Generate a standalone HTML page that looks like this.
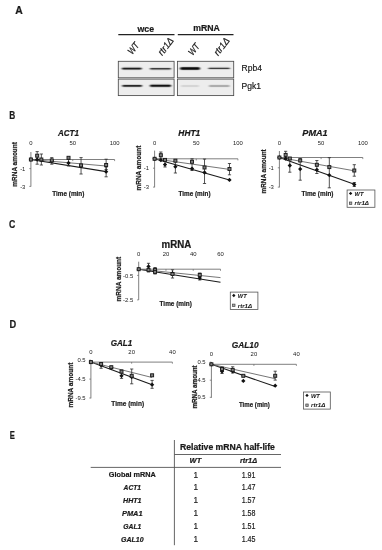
<!DOCTYPE html>
<html><head><meta charset="utf-8"><title>Figure</title>
<style>
html,body{margin:0;padding:0;background:#fff;}
body{width:382px;height:550px;overflow:hidden;}
svg{display:block;filter:blur(0.35px);font-family:'Liberation Sans', sans-serif;}
</style></head>
<body>
<svg width="382" height="550" viewBox="0 0 382 550">
<defs>
<filter id="bl" x="-20%" y="-200%" width="140%" height="500%"><feGaussianBlur stdDeviation="0.9 0.55"/></filter>
</defs>
<rect width="382" height="550" fill="#ffffff"/>
<text x="15.20" y="14.10" font-size="10.9" text-anchor="start" fill="#1a1a1a" font-weight="bold" stroke="#1a1a1a" stroke-width="0.22" textLength="7.50" lengthAdjust="spacingAndGlyphs" >A</text>
<text x="9.20" y="118.80" font-size="10.9" text-anchor="start" fill="#1a1a1a" font-weight="bold" stroke="#1a1a1a" stroke-width="0.22" textLength="6.00" lengthAdjust="spacingAndGlyphs" >B</text>
<text x="9.00" y="227.90" font-size="10.9" text-anchor="start" fill="#1a1a1a" font-weight="bold" stroke="#1a1a1a" stroke-width="0.22" textLength="6.30" lengthAdjust="spacingAndGlyphs" >C</text>
<text x="9.40" y="328.30" font-size="10.9" text-anchor="start" fill="#1a1a1a" font-weight="bold" stroke="#1a1a1a" stroke-width="0.22" textLength="6.70" lengthAdjust="spacingAndGlyphs" >D</text>
<text x="9.80" y="439.20" font-size="10.9" text-anchor="start" fill="#1a1a1a" font-weight="bold" stroke="#1a1a1a" stroke-width="0.22" textLength="5.10" lengthAdjust="spacingAndGlyphs" >E</text>
<text x="145.80" y="31.84" font-size="9.6" text-anchor="middle" fill="#1a1a1a" font-weight="bold" stroke="#1a1a1a" stroke-width="0.22" textLength="16.60" lengthAdjust="spacingAndGlyphs" >wce</text>
<text x="206.60" y="30.97" font-size="9.4" text-anchor="middle" fill="#1a1a1a" font-weight="bold" stroke="#1a1a1a" stroke-width="0.22" textLength="26.60" lengthAdjust="spacingAndGlyphs" >mRNA</text>
<line x1="118.30" y1="34.60" x2="174.50" y2="34.60" stroke="#222" stroke-width="1.1" />
<line x1="177.80" y1="34.60" x2="233.50" y2="34.60" stroke="#222" stroke-width="1.1" />
<text x="133.30" y="51.64" font-size="9.6" text-anchor="middle" fill="#1a1a1a" font-style="italic" textLength="12.00" lengthAdjust="spacingAndGlyphs" transform="rotate(-52 133.30 48.20)" stroke="#1a1a1a" stroke-width="0.2">WT</text>
<text x="165.60" y="49.64" font-size="9.6" text-anchor="middle" fill="#1a1a1a" font-style="italic" textLength="19.50" lengthAdjust="spacingAndGlyphs" transform="rotate(-52 165.60 46.20)" stroke="#1a1a1a" stroke-width="0.2">rtr1Δ</text>
<text x="193.80" y="52.64" font-size="9.6" text-anchor="middle" fill="#1a1a1a" font-style="italic" textLength="12.00" lengthAdjust="spacingAndGlyphs" transform="rotate(-52 193.80 49.20)" stroke="#1a1a1a" stroke-width="0.2">WT</text>
<text x="221.50" y="49.84" font-size="9.6" text-anchor="middle" fill="#1a1a1a" font-style="italic" textLength="19.50" lengthAdjust="spacingAndGlyphs" transform="rotate(-52 221.50 46.40)" stroke="#1a1a1a" stroke-width="0.2">rtr1Δ</text>
<rect x="118.3" y="61.3" width="55.80" height="16.50" fill="#ededed" stroke="#4a4a4a" stroke-width="0.85"/>
<rect x="118.3" y="79.1" width="55.80" height="16.50" fill="#ededed" stroke="#4a4a4a" stroke-width="0.85"/>
<rect x="177.4" y="61.3" width="56.30" height="16.50" fill="#ededed" stroke="#4a4a4a" stroke-width="0.85"/>
<rect x="177.4" y="79.1" width="56.30" height="16.50" fill="#ededed" stroke="#4a4a4a" stroke-width="0.85"/>
<rect x="121.50" y="66.85" width="20.60" height="3.50" rx="1.75" fill="#000" opacity="0.136" filter="url(#bl)"/>
<rect x="122.00" y="67.75" width="19.60" height="1.7" rx="0.85" fill="#000" opacity="0.85" filter="url(#bl)"/>
<rect x="149.50" y="67.15" width="21.90" height="3.30" rx="1.65" fill="#000" opacity="0.112" filter="url(#bl)"/>
<rect x="150.00" y="68.05" width="20.90" height="1.5" rx="0.75" fill="#000" opacity="0.7" filter="url(#bl)"/>
<rect x="121.80" y="84.05" width="20.70" height="3.50" rx="1.75" fill="#000" opacity="0.128" filter="url(#bl)"/>
<rect x="122.30" y="84.95" width="19.70" height="1.7" rx="0.85" fill="#000" opacity="0.8" filter="url(#bl)"/>
<rect x="149.50" y="83.85" width="22.00" height="3.90" rx="1.95" fill="#000" opacity="0.144" filter="url(#bl)"/>
<rect x="150.00" y="84.75" width="21.00" height="2.1" rx="1.05" fill="#000" opacity="0.9" filter="url(#bl)"/>
<rect x="179.80" y="66.40" width="20.50" height="4.20" rx="2.10" fill="#000" opacity="0.152" filter="url(#bl)"/>
<rect x="180.30" y="67.30" width="19.50" height="2.4" rx="1.2" fill="#000" opacity="0.95" filter="url(#bl)"/>
<rect x="208.00" y="66.80" width="22.20" height="3.20" rx="1.60" fill="#000" opacity="0.112" filter="url(#bl)"/>
<rect x="208.50" y="67.70" width="21.20" height="1.4" rx="0.7" fill="#000" opacity="0.7" filter="url(#bl)"/>
<rect x="180.50" y="84.40" width="19.00" height="3.20" rx="1.60" fill="#000" opacity="0.016" filter="url(#bl)"/>
<rect x="181.00" y="85.30" width="18.00" height="1.4" rx="0.7" fill="#000" opacity="0.1" filter="url(#bl)"/>
<rect x="208.50" y="84.25" width="21.50" height="3.30" rx="1.65" fill="#000" opacity="0.048" filter="url(#bl)"/>
<rect x="209.00" y="85.15" width="20.50" height="1.5" rx="0.75" fill="#000" opacity="0.3" filter="url(#bl)"/>
<text x="241.60" y="70.77" font-size="9.4" text-anchor="start" fill="#1a1a1a" textLength="20.40" lengthAdjust="spacingAndGlyphs" stroke="#1a1a1a" stroke-width="0.2">Rpb4</text>
<text x="241.60" y="88.97" font-size="9.4" text-anchor="start" fill="#1a1a1a" textLength="19.50" lengthAdjust="spacingAndGlyphs" stroke="#1a1a1a" stroke-width="0.2">Pgk1</text>
<line x1="30.90" y1="152.00" x2="30.90" y2="186.60" stroke="#606060" stroke-width="0.8" />
<line x1="30.90" y1="159.50" x2="114.60" y2="159.50" stroke="#606060" stroke-width="0.8" />
<text x="30.90" y="144.71" font-size="5.9" text-anchor="middle" fill="#1a1a1a" >0</text>
<line x1="72.75" y1="159.50" x2="72.75" y2="161.10" stroke="#606060" stroke-width="0.7" />
<text x="72.75" y="144.71" font-size="5.9" text-anchor="middle" fill="#1a1a1a" >50</text>
<line x1="114.60" y1="159.50" x2="114.60" y2="161.10" stroke="#606060" stroke-width="0.7" />
<text x="114.60" y="144.71" font-size="5.9" text-anchor="middle" fill="#1a1a1a" >100</text>
<line x1="29.30" y1="168.60" x2="30.90" y2="168.60" stroke="#606060" stroke-width="0.7" />
<text x="25.40" y="170.71" font-size="5.9" text-anchor="end" fill="#1a1a1a" >-1</text>
<line x1="29.30" y1="186.40" x2="30.90" y2="186.40" stroke="#606060" stroke-width="0.7" />
<text x="25.40" y="188.51" font-size="5.9" text-anchor="end" fill="#1a1a1a" >-3</text>
<text x="68.50" y="136.20" font-size="9.5" text-anchor="middle" fill="#1a1a1a" font-weight="bold" stroke="#1a1a1a" stroke-width="0.22" font-style="italic" textLength="21.00" lengthAdjust="spacingAndGlyphs" >ACT1</text>
<text x="14.90" y="166.94" font-size="7.1" text-anchor="middle" fill="#1a1a1a" font-weight="bold" stroke="#1a1a1a" stroke-width="0.22" textLength="44.60" lengthAdjust="spacingAndGlyphs" transform="rotate(-90 14.90 164.40)" >mRNA amount</text>
<text x="68.30" y="195.89" font-size="7.8" text-anchor="middle" fill="#1a1a1a" font-weight="bold" stroke="#1a1a1a" stroke-width="0.22" textLength="32.20" lengthAdjust="spacingAndGlyphs" >Time (min)</text>
<line x1="30.90" y1="159.50" x2="106.14" y2="171.60" stroke="#1a1a1a" stroke-width="1.1" />
<line x1="30.90" y1="159.50" x2="106.14" y2="166.00" stroke="#666" stroke-width="0.9" />
<line x1="37.17" y1="151.60" x2="37.17" y2="164.20" stroke="#2a2a2a" stroke-width="0.8" />
<line x1="35.57" y1="151.60" x2="38.77" y2="151.60" stroke="#2a2a2a" stroke-width="0.8" />
<line x1="35.57" y1="164.20" x2="38.77" y2="164.20" stroke="#2a2a2a" stroke-width="0.8" />
<line x1="41.35" y1="154.00" x2="41.35" y2="165.00" stroke="#2a2a2a" stroke-width="0.8" />
<line x1="39.75" y1="154.00" x2="42.95" y2="154.00" stroke="#2a2a2a" stroke-width="0.8" />
<line x1="39.75" y1="165.00" x2="42.95" y2="165.00" stroke="#2a2a2a" stroke-width="0.8" />
<line x1="51.80" y1="157.60" x2="51.80" y2="164.20" stroke="#2a2a2a" stroke-width="0.8" />
<line x1="50.20" y1="157.60" x2="53.40" y2="157.60" stroke="#2a2a2a" stroke-width="0.8" />
<line x1="50.20" y1="164.20" x2="53.40" y2="164.20" stroke="#2a2a2a" stroke-width="0.8" />
<line x1="68.52" y1="159.50" x2="68.52" y2="166.00" stroke="#2a2a2a" stroke-width="0.8" />
<line x1="66.92" y1="159.50" x2="70.12" y2="159.50" stroke="#2a2a2a" stroke-width="0.8" />
<line x1="66.92" y1="166.00" x2="70.12" y2="166.00" stroke="#2a2a2a" stroke-width="0.8" />
<line x1="81.06" y1="157.60" x2="81.06" y2="174.00" stroke="#2a2a2a" stroke-width="0.8" />
<line x1="79.46" y1="157.60" x2="82.66" y2="157.60" stroke="#2a2a2a" stroke-width="0.8" />
<line x1="79.46" y1="174.00" x2="82.66" y2="174.00" stroke="#2a2a2a" stroke-width="0.8" />
<line x1="106.14" y1="159.20" x2="106.14" y2="169.50" stroke="#2a2a2a" stroke-width="0.8" />
<line x1="104.54" y1="159.20" x2="107.74" y2="159.20" stroke="#2a2a2a" stroke-width="0.8" />
<line x1="104.54" y1="169.50" x2="107.74" y2="169.50" stroke="#2a2a2a" stroke-width="0.8" />
<line x1="106.14" y1="167.00" x2="106.14" y2="176.80" stroke="#2a2a2a" stroke-width="0.8" />
<line x1="104.54" y1="167.00" x2="107.74" y2="167.00" stroke="#2a2a2a" stroke-width="0.8" />
<line x1="104.54" y1="176.80" x2="107.74" y2="176.80" stroke="#2a2a2a" stroke-width="0.8" />
<path d="M30.90 157.35 L33.05 159.50 L30.90 161.65 L28.75 159.50 Z" fill="#111"/>
<path d="M37.17 157.35 L39.32 159.50 L37.17 161.65 L35.02 159.50 Z" fill="#111"/>
<path d="M41.35 157.85 L43.50 160.00 L41.35 162.15 L39.20 160.00 Z" fill="#111"/>
<path d="M51.80 158.85 L53.95 161.00 L51.80 163.15 L49.65 161.00 Z" fill="#111"/>
<path d="M68.52 160.85 L70.67 163.00 L68.52 165.15 L66.37 163.00 Z" fill="#111"/>
<path d="M81.06 164.05 L83.21 166.20 L81.06 168.35 L78.91 166.20 Z" fill="#111"/>
<path d="M106.14 169.55 L108.29 171.70 L106.14 173.85 L103.99 171.70 Z" fill="#111"/>
<rect x="29.40" y="158.00" width="3.00" height="3.00" fill="#808080" stroke="#1a1a1a" stroke-width="0.95"/>
<rect x="35.67" y="154.20" width="3.00" height="3.00" fill="#808080" stroke="#1a1a1a" stroke-width="0.95"/>
<rect x="39.85" y="158.00" width="3.00" height="3.00" fill="#808080" stroke="#1a1a1a" stroke-width="0.95"/>
<rect x="50.30" y="158.90" width="3.00" height="3.00" fill="#808080" stroke="#1a1a1a" stroke-width="0.95"/>
<rect x="67.02" y="156.30" width="3.00" height="3.00" fill="#808080" stroke="#1a1a1a" stroke-width="0.95"/>
<rect x="79.56" y="163.90" width="3.00" height="3.00" fill="#808080" stroke="#1a1a1a" stroke-width="0.95"/>
<rect x="104.64" y="163.50" width="3.00" height="3.00" fill="#808080" stroke="#1a1a1a" stroke-width="0.95"/>
<line x1="154.60" y1="150.60" x2="154.60" y2="187.30" stroke="#606060" stroke-width="0.8" />
<line x1="154.60" y1="158.80" x2="237.90" y2="158.80" stroke="#606060" stroke-width="0.8" />
<text x="154.60" y="144.71" font-size="5.9" text-anchor="middle" fill="#1a1a1a" >0</text>
<line x1="196.25" y1="158.80" x2="196.25" y2="160.40" stroke="#606060" stroke-width="0.7" />
<text x="196.25" y="144.71" font-size="5.9" text-anchor="middle" fill="#1a1a1a" >50</text>
<line x1="237.90" y1="158.80" x2="237.90" y2="160.40" stroke="#606060" stroke-width="0.7" />
<text x="237.90" y="144.71" font-size="5.9" text-anchor="middle" fill="#1a1a1a" >100</text>
<line x1="153.00" y1="168.20" x2="154.60" y2="168.20" stroke="#606060" stroke-width="0.7" />
<text x="149.10" y="170.31" font-size="5.9" text-anchor="end" fill="#1a1a1a" >-1</text>
<line x1="153.00" y1="187.10" x2="154.60" y2="187.10" stroke="#606060" stroke-width="0.7" />
<text x="149.10" y="189.21" font-size="5.9" text-anchor="end" fill="#1a1a1a" >-3</text>
<text x="189.30" y="136.10" font-size="9.5" text-anchor="middle" fill="#1a1a1a" font-weight="bold" stroke="#1a1a1a" stroke-width="0.22" font-style="italic" textLength="22.00" lengthAdjust="spacingAndGlyphs" >HHT1</text>
<text x="138.10" y="170.64" font-size="7.1" text-anchor="middle" fill="#1a1a1a" font-weight="bold" stroke="#1a1a1a" stroke-width="0.22" textLength="44.80" lengthAdjust="spacingAndGlyphs" transform="rotate(-90 138.10 168.10)" >mRNA amount</text>
<text x="194.50" y="196.19" font-size="7.8" text-anchor="middle" fill="#1a1a1a" font-weight="bold" stroke="#1a1a1a" stroke-width="0.22" textLength="32.00" lengthAdjust="spacingAndGlyphs" >Time (min)</text>
<line x1="154.60" y1="158.80" x2="229.48" y2="180.00" stroke="#1a1a1a" stroke-width="1.1" />
<line x1="154.60" y1="158.80" x2="229.48" y2="169.40" stroke="#666" stroke-width="0.9" />
<line x1="160.84" y1="152.00" x2="160.84" y2="158.20" stroke="#2a2a2a" stroke-width="0.8" />
<line x1="159.24" y1="152.00" x2="162.44" y2="152.00" stroke="#2a2a2a" stroke-width="0.8" />
<line x1="159.24" y1="158.20" x2="162.44" y2="158.20" stroke="#2a2a2a" stroke-width="0.8" />
<line x1="165.00" y1="160.00" x2="165.00" y2="167.00" stroke="#2a2a2a" stroke-width="0.8" />
<line x1="163.40" y1="160.00" x2="166.60" y2="160.00" stroke="#2a2a2a" stroke-width="0.8" />
<line x1="163.40" y1="167.00" x2="166.60" y2="167.00" stroke="#2a2a2a" stroke-width="0.8" />
<line x1="175.40" y1="161.00" x2="175.40" y2="173.00" stroke="#2a2a2a" stroke-width="0.8" />
<line x1="173.80" y1="161.00" x2="177.00" y2="161.00" stroke="#2a2a2a" stroke-width="0.8" />
<line x1="173.80" y1="173.00" x2="177.00" y2="173.00" stroke="#2a2a2a" stroke-width="0.8" />
<line x1="192.04" y1="158.80" x2="192.04" y2="170.50" stroke="#2a2a2a" stroke-width="0.8" />
<line x1="190.44" y1="158.80" x2="193.64" y2="158.80" stroke="#2a2a2a" stroke-width="0.8" />
<line x1="190.44" y1="170.50" x2="193.64" y2="170.50" stroke="#2a2a2a" stroke-width="0.8" />
<line x1="204.52" y1="159.10" x2="204.52" y2="183.50" stroke="#2a2a2a" stroke-width="0.8" />
<line x1="202.92" y1="159.10" x2="206.12" y2="159.10" stroke="#2a2a2a" stroke-width="0.8" />
<line x1="202.92" y1="183.50" x2="206.12" y2="183.50" stroke="#2a2a2a" stroke-width="0.8" />
<line x1="229.48" y1="163.50" x2="229.48" y2="174.80" stroke="#2a2a2a" stroke-width="0.8" />
<line x1="227.88" y1="163.50" x2="231.08" y2="163.50" stroke="#2a2a2a" stroke-width="0.8" />
<line x1="227.88" y1="174.80" x2="231.08" y2="174.80" stroke="#2a2a2a" stroke-width="0.8" />
<path d="M154.60 156.65 L156.75 158.80 L154.60 160.95 L152.45 158.80 Z" fill="#111"/>
<path d="M160.84 158.05 L162.99 160.20 L160.84 162.35 L158.69 160.20 Z" fill="#111"/>
<path d="M165.00 162.45 L167.15 164.60 L165.00 166.75 L162.85 164.60 Z" fill="#111"/>
<path d="M175.40 164.55 L177.55 166.70 L175.40 168.85 L173.25 166.70 Z" fill="#111"/>
<path d="M192.04 166.45 L194.19 168.60 L192.04 170.75 L189.89 168.60 Z" fill="#111"/>
<path d="M204.52 170.35 L206.67 172.50 L204.52 174.65 L202.37 172.50 Z" fill="#111"/>
<path d="M229.48 177.75 L231.63 179.90 L229.48 182.05 L227.33 179.90 Z" fill="#111"/>
<rect x="153.10" y="157.30" width="3.00" height="3.00" fill="#808080" stroke="#1a1a1a" stroke-width="0.95"/>
<rect x="159.34" y="153.70" width="3.00" height="3.00" fill="#808080" stroke="#1a1a1a" stroke-width="0.95"/>
<rect x="163.50" y="158.40" width="3.00" height="3.00" fill="#808080" stroke="#1a1a1a" stroke-width="0.95"/>
<rect x="173.90" y="159.20" width="3.00" height="3.00" fill="#808080" stroke="#1a1a1a" stroke-width="0.95"/>
<rect x="190.54" y="160.30" width="3.00" height="3.00" fill="#808080" stroke="#1a1a1a" stroke-width="0.95"/>
<rect x="203.02" y="166.00" width="3.00" height="3.00" fill="#808080" stroke="#1a1a1a" stroke-width="0.95"/>
<rect x="227.98" y="167.50" width="3.00" height="3.00" fill="#808080" stroke="#1a1a1a" stroke-width="0.95"/>
<line x1="279.40" y1="151.00" x2="279.40" y2="187.40" stroke="#606060" stroke-width="0.8" />
<line x1="279.40" y1="157.50" x2="362.80" y2="157.50" stroke="#606060" stroke-width="0.8" />
<text x="279.40" y="144.61" font-size="5.9" text-anchor="middle" fill="#1a1a1a" >0</text>
<line x1="321.10" y1="157.50" x2="321.10" y2="159.10" stroke="#606060" stroke-width="0.7" />
<text x="321.10" y="144.61" font-size="5.9" text-anchor="middle" fill="#1a1a1a" >50</text>
<line x1="362.80" y1="157.50" x2="362.80" y2="159.10" stroke="#606060" stroke-width="0.7" />
<text x="362.80" y="144.61" font-size="5.9" text-anchor="middle" fill="#1a1a1a" >100</text>
<line x1="277.80" y1="167.80" x2="279.40" y2="167.80" stroke="#606060" stroke-width="0.7" />
<text x="273.90" y="169.91" font-size="5.9" text-anchor="end" fill="#1a1a1a" >-1</text>
<line x1="277.80" y1="187.10" x2="279.40" y2="187.10" stroke="#606060" stroke-width="0.7" />
<text x="273.90" y="189.21" font-size="5.9" text-anchor="end" fill="#1a1a1a" >-3</text>
<text x="315.00" y="136.10" font-size="9.5" text-anchor="middle" fill="#1a1a1a" font-weight="bold" stroke="#1a1a1a" stroke-width="0.22" font-style="italic" textLength="25.40" lengthAdjust="spacingAndGlyphs" >PMA1</text>
<text x="263.60" y="173.94" font-size="7.1" text-anchor="middle" fill="#1a1a1a" font-weight="bold" stroke="#1a1a1a" stroke-width="0.22" textLength="44.20" lengthAdjust="spacingAndGlyphs" transform="rotate(-90 263.60 171.40)" >mRNA amount</text>
<text x="317.40" y="195.99" font-size="7.8" text-anchor="middle" fill="#1a1a1a" font-weight="bold" stroke="#1a1a1a" stroke-width="0.22" textLength="32.00" lengthAdjust="spacingAndGlyphs" >Time (min)</text>
<line x1="279.40" y1="157.50" x2="354.28" y2="184.20" stroke="#1a1a1a" stroke-width="1.1" />
<line x1="279.40" y1="157.50" x2="354.28" y2="170.80" stroke="#666" stroke-width="0.9" />
<line x1="285.64" y1="151.30" x2="285.64" y2="159.60" stroke="#2a2a2a" stroke-width="0.8" />
<line x1="284.04" y1="151.30" x2="287.24" y2="151.30" stroke="#2a2a2a" stroke-width="0.8" />
<line x1="284.04" y1="159.60" x2="287.24" y2="159.60" stroke="#2a2a2a" stroke-width="0.8" />
<line x1="289.80" y1="159.50" x2="289.80" y2="172.20" stroke="#2a2a2a" stroke-width="0.8" />
<line x1="288.20" y1="159.50" x2="291.40" y2="159.50" stroke="#2a2a2a" stroke-width="0.8" />
<line x1="288.20" y1="172.20" x2="291.40" y2="172.20" stroke="#2a2a2a" stroke-width="0.8" />
<line x1="300.20" y1="158.50" x2="300.20" y2="180.20" stroke="#2a2a2a" stroke-width="0.8" />
<line x1="298.60" y1="158.50" x2="301.80" y2="158.50" stroke="#2a2a2a" stroke-width="0.8" />
<line x1="298.60" y1="180.20" x2="301.80" y2="180.20" stroke="#2a2a2a" stroke-width="0.8" />
<line x1="316.84" y1="160.50" x2="316.84" y2="173.50" stroke="#2a2a2a" stroke-width="0.8" />
<line x1="315.24" y1="160.50" x2="318.44" y2="160.50" stroke="#2a2a2a" stroke-width="0.8" />
<line x1="315.24" y1="173.50" x2="318.44" y2="173.50" stroke="#2a2a2a" stroke-width="0.8" />
<line x1="329.32" y1="157.70" x2="329.32" y2="187.80" stroke="#2a2a2a" stroke-width="0.8" />
<line x1="327.72" y1="157.70" x2="330.92" y2="157.70" stroke="#2a2a2a" stroke-width="0.8" />
<line x1="327.72" y1="187.80" x2="330.92" y2="187.80" stroke="#2a2a2a" stroke-width="0.8" />
<line x1="354.28" y1="164.70" x2="354.28" y2="176.20" stroke="#2a2a2a" stroke-width="0.8" />
<line x1="352.68" y1="164.70" x2="355.88" y2="164.70" stroke="#2a2a2a" stroke-width="0.8" />
<line x1="352.68" y1="176.20" x2="355.88" y2="176.20" stroke="#2a2a2a" stroke-width="0.8" />
<line x1="354.28" y1="182.50" x2="354.28" y2="186.50" stroke="#2a2a2a" stroke-width="0.8" />
<line x1="352.68" y1="182.50" x2="355.88" y2="182.50" stroke="#2a2a2a" stroke-width="0.8" />
<line x1="352.68" y1="186.50" x2="355.88" y2="186.50" stroke="#2a2a2a" stroke-width="0.8" />
<path d="M279.40 155.35 L281.55 157.50 L279.40 159.65 L277.25 157.50 Z" fill="#111"/>
<path d="M285.64 156.35 L287.79 158.50 L285.64 160.65 L283.49 158.50 Z" fill="#111"/>
<path d="M289.80 163.35 L291.95 165.50 L289.80 167.65 L287.65 165.50 Z" fill="#111"/>
<path d="M300.20 166.95 L302.35 169.10 L300.20 171.25 L298.05 169.10 Z" fill="#111"/>
<path d="M316.84 167.65 L318.99 169.80 L316.84 171.95 L314.69 169.80 Z" fill="#111"/>
<path d="M329.32 173.05 L331.47 175.20 L329.32 177.35 L327.17 175.20 Z" fill="#111"/>
<path d="M354.28 182.35 L356.43 184.50 L354.28 186.65 L352.13 184.50 Z" fill="#111"/>
<rect x="277.90" y="156.00" width="3.00" height="3.00" fill="#808080" stroke="#1a1a1a" stroke-width="0.95"/>
<rect x="284.14" y="153.40" width="3.00" height="3.00" fill="#808080" stroke="#1a1a1a" stroke-width="0.95"/>
<rect x="288.30" y="157.00" width="3.00" height="3.00" fill="#808080" stroke="#1a1a1a" stroke-width="0.95"/>
<rect x="298.70" y="159.00" width="3.00" height="3.00" fill="#808080" stroke="#1a1a1a" stroke-width="0.95"/>
<rect x="315.34" y="163.30" width="3.00" height="3.00" fill="#808080" stroke="#1a1a1a" stroke-width="0.95"/>
<rect x="327.82" y="165.60" width="3.00" height="3.00" fill="#808080" stroke="#1a1a1a" stroke-width="0.95"/>
<rect x="352.78" y="169.00" width="3.00" height="3.00" fill="#808080" stroke="#1a1a1a" stroke-width="0.95"/>
<rect x="347.1" y="190.0" width="27.80" height="17.30" fill="#fff" stroke="#555" stroke-width="0.8"/>
<path d="M350.60 191.70 L352.30 193.40 L350.60 195.10 L348.90 193.40 Z" fill="#111"/>
<rect x="349.40" y="202.00" width="2.4" height="2.4" fill="#aaa" stroke="#444" stroke-width="0.7"/>
<text x="354.60" y="195.65" font-size="6.0" text-anchor="start" fill="#1a1a1a" font-weight="bold" stroke="#1a1a1a" stroke-width="0.05" font-style="italic" textLength="8.80" lengthAdjust="spacingAndGlyphs" >WT</text>
<text x="354.60" y="205.45" font-size="6.0" text-anchor="start" fill="#1a1a1a" font-weight="bold" stroke="#1a1a1a" stroke-width="0.05" font-style="italic" textLength="14.30" lengthAdjust="spacingAndGlyphs" >rtr1Δ</text>
<line x1="138.70" y1="261.70" x2="138.70" y2="299.90" stroke="#606060" stroke-width="0.8" />
<line x1="138.70" y1="269.20" x2="220.50" y2="269.20" stroke="#606060" stroke-width="0.8" />
<text x="138.70" y="255.91" font-size="5.9" text-anchor="middle" fill="#1a1a1a" >0</text>
<line x1="165.97" y1="269.20" x2="165.97" y2="270.80" stroke="#606060" stroke-width="0.7" />
<text x="165.97" y="255.91" font-size="5.9" text-anchor="middle" fill="#1a1a1a" >20</text>
<line x1="193.23" y1="269.20" x2="193.23" y2="270.80" stroke="#606060" stroke-width="0.7" />
<text x="193.23" y="255.91" font-size="5.9" text-anchor="middle" fill="#1a1a1a" >40</text>
<line x1="220.50" y1="269.20" x2="220.50" y2="270.80" stroke="#606060" stroke-width="0.7" />
<text x="220.50" y="255.91" font-size="5.9" text-anchor="middle" fill="#1a1a1a" >60</text>
<line x1="137.10" y1="275.40" x2="138.70" y2="275.40" stroke="#606060" stroke-width="0.7" />
<text x="133.20" y="277.51" font-size="5.9" text-anchor="end" fill="#1a1a1a" >-0.5</text>
<line x1="137.10" y1="299.90" x2="138.70" y2="299.90" stroke="#606060" stroke-width="0.7" />
<text x="133.20" y="302.01" font-size="5.9" text-anchor="end" fill="#1a1a1a" >-2.5</text>
<text x="176.40" y="247.78" font-size="10.0" text-anchor="middle" fill="#1a1a1a" font-weight="bold" stroke="#1a1a1a" stroke-width="0.22" textLength="29.70" lengthAdjust="spacingAndGlyphs" >mRNA</text>
<text x="118.60" y="281.64" font-size="7.1" text-anchor="middle" fill="#1a1a1a" font-weight="bold" stroke="#1a1a1a" stroke-width="0.22" textLength="44.60" lengthAdjust="spacingAndGlyphs" transform="rotate(-90 118.60 279.10)" >mRNA amount</text>
<text x="175.70" y="305.59" font-size="7.8" text-anchor="middle" fill="#1a1a1a" font-weight="bold" stroke="#1a1a1a" stroke-width="0.22" textLength="32.30" lengthAdjust="spacingAndGlyphs" >Time (min)</text>
<line x1="138.70" y1="269.20" x2="220.50" y2="282.30" stroke="#1a1a1a" stroke-width="1.1" />
<line x1="138.70" y1="269.20" x2="220.50" y2="277.60" stroke="#666" stroke-width="0.9" />
<line x1="148.51" y1="263.30" x2="148.51" y2="272.00" stroke="#2a2a2a" stroke-width="0.8" />
<line x1="146.91" y1="263.30" x2="150.11" y2="263.30" stroke="#2a2a2a" stroke-width="0.8" />
<line x1="146.91" y1="272.00" x2="150.11" y2="272.00" stroke="#2a2a2a" stroke-width="0.8" />
<line x1="155.06" y1="267.50" x2="155.06" y2="274.00" stroke="#2a2a2a" stroke-width="0.8" />
<line x1="153.46" y1="267.50" x2="156.66" y2="267.50" stroke="#2a2a2a" stroke-width="0.8" />
<line x1="153.46" y1="274.00" x2="156.66" y2="274.00" stroke="#2a2a2a" stroke-width="0.8" />
<line x1="172.50" y1="269.80" x2="172.50" y2="278.00" stroke="#2a2a2a" stroke-width="0.8" />
<line x1="170.90" y1="269.80" x2="174.10" y2="269.80" stroke="#2a2a2a" stroke-width="0.8" />
<line x1="170.90" y1="278.00" x2="174.10" y2="278.00" stroke="#2a2a2a" stroke-width="0.8" />
<line x1="199.76" y1="273.00" x2="199.76" y2="280.00" stroke="#2a2a2a" stroke-width="0.8" />
<line x1="198.16" y1="273.00" x2="201.36" y2="273.00" stroke="#2a2a2a" stroke-width="0.8" />
<line x1="198.16" y1="280.00" x2="201.36" y2="280.00" stroke="#2a2a2a" stroke-width="0.8" />
<path d="M138.70 267.05 L140.85 269.20 L138.70 271.35 L136.55 269.20 Z" fill="#111"/>
<path d="M148.51 264.25 L150.66 266.40 L148.51 268.55 L146.36 266.40 Z" fill="#111"/>
<path d="M155.06 268.35 L157.21 270.50 L155.06 272.65 L152.91 270.50 Z" fill="#111"/>
<path d="M172.50 271.05 L174.65 273.20 L172.50 275.35 L170.35 273.20 Z" fill="#111"/>
<path d="M199.76 275.85 L201.91 278.00 L199.76 280.15 L197.61 278.00 Z" fill="#111"/>
<rect x="137.20" y="267.70" width="3.00" height="3.00" fill="#808080" stroke="#1a1a1a" stroke-width="0.95"/>
<rect x="147.01" y="268.40" width="3.00" height="3.00" fill="#808080" stroke="#1a1a1a" stroke-width="0.95"/>
<rect x="153.56" y="268.40" width="3.00" height="3.00" fill="#808080" stroke="#1a1a1a" stroke-width="0.95"/>
<rect x="153.56" y="270.40" width="3.00" height="3.00" fill="#808080" stroke="#1a1a1a" stroke-width="0.95"/>
<rect x="171.00" y="272.50" width="3.00" height="3.00" fill="#808080" stroke="#1a1a1a" stroke-width="0.95"/>
<rect x="198.26" y="273.50" width="3.00" height="3.00" fill="#808080" stroke="#1a1a1a" stroke-width="0.95"/>
<rect x="230.3" y="292.1" width="27.60" height="17.40" fill="#fff" stroke="#555" stroke-width="0.8"/>
<path d="M233.80 293.80 L235.50 295.50 L233.80 297.20 L232.10 295.50 Z" fill="#111"/>
<rect x="232.60" y="304.10" width="2.4" height="2.4" fill="#aaa" stroke="#444" stroke-width="0.7"/>
<text x="237.80" y="297.75" font-size="6.0" text-anchor="start" fill="#1a1a1a" font-weight="bold" stroke="#1a1a1a" stroke-width="0.05" font-style="italic" textLength="8.80" lengthAdjust="spacingAndGlyphs" >WT</text>
<text x="237.80" y="307.55" font-size="6.0" text-anchor="start" fill="#1a1a1a" font-weight="bold" stroke="#1a1a1a" stroke-width="0.05" font-style="italic" textLength="14.30" lengthAdjust="spacingAndGlyphs" >rtr1Δ</text>
<line x1="90.90" y1="360.00" x2="90.90" y2="398.40" stroke="#606060" stroke-width="0.8" />
<line x1="90.90" y1="362.10" x2="172.40" y2="362.10" stroke="#606060" stroke-width="0.8" />
<text x="90.90" y="353.61" font-size="5.9" text-anchor="middle" fill="#1a1a1a" >0</text>
<line x1="131.65" y1="362.10" x2="131.65" y2="363.70" stroke="#606060" stroke-width="0.7" />
<text x="131.65" y="353.61" font-size="5.9" text-anchor="middle" fill="#1a1a1a" >20</text>
<line x1="172.40" y1="362.10" x2="172.40" y2="363.70" stroke="#606060" stroke-width="0.7" />
<text x="172.40" y="353.61" font-size="5.9" text-anchor="middle" fill="#1a1a1a" >40</text>
<line x1="89.30" y1="360.10" x2="90.90" y2="360.10" stroke="#606060" stroke-width="0.7" />
<text x="85.60" y="362.21" font-size="5.9" text-anchor="end" fill="#1a1a1a" >0.5</text>
<line x1="89.30" y1="379.10" x2="90.90" y2="379.10" stroke="#606060" stroke-width="0.7" />
<text x="85.60" y="381.21" font-size="5.9" text-anchor="end" fill="#1a1a1a" >-4.5</text>
<line x1="89.30" y1="398.00" x2="90.90" y2="398.00" stroke="#606060" stroke-width="0.7" />
<text x="85.60" y="400.11" font-size="5.9" text-anchor="end" fill="#1a1a1a" >-9.5</text>
<text x="121.50" y="346.20" font-size="9.5" text-anchor="middle" fill="#1a1a1a" font-weight="bold" stroke="#1a1a1a" stroke-width="0.22" font-style="italic" textLength="21.50" lengthAdjust="spacingAndGlyphs" >GAL1</text>
<text x="70.20" y="387.64" font-size="7.1" text-anchor="middle" fill="#1a1a1a" font-weight="bold" stroke="#1a1a1a" stroke-width="0.22" textLength="45.00" lengthAdjust="spacingAndGlyphs" transform="rotate(-90 70.20 385.10)" >mRNA amount</text>
<text x="127.70" y="405.99" font-size="7.8" text-anchor="middle" fill="#1a1a1a" font-weight="bold" stroke="#1a1a1a" stroke-width="0.22" textLength="32.70" lengthAdjust="spacingAndGlyphs" >Time (min)</text>
<line x1="90.90" y1="362.10" x2="152.10" y2="384.70" stroke="#1a1a1a" stroke-width="1.1" />
<line x1="90.90" y1="362.10" x2="152.10" y2="377.50" stroke="#666" stroke-width="0.9" />
<line x1="101.10" y1="363.00" x2="101.10" y2="368.30" stroke="#2a2a2a" stroke-width="0.8" />
<line x1="99.50" y1="363.00" x2="102.70" y2="363.00" stroke="#2a2a2a" stroke-width="0.8" />
<line x1="99.50" y1="368.30" x2="102.70" y2="368.30" stroke="#2a2a2a" stroke-width="0.8" />
<line x1="121.50" y1="370.00" x2="121.50" y2="378.40" stroke="#2a2a2a" stroke-width="0.8" />
<line x1="119.90" y1="370.00" x2="123.10" y2="370.00" stroke="#2a2a2a" stroke-width="0.8" />
<line x1="119.90" y1="378.40" x2="123.10" y2="378.40" stroke="#2a2a2a" stroke-width="0.8" />
<line x1="131.70" y1="369.00" x2="131.70" y2="383.80" stroke="#2a2a2a" stroke-width="0.8" />
<line x1="130.10" y1="369.00" x2="133.30" y2="369.00" stroke="#2a2a2a" stroke-width="0.8" />
<line x1="130.10" y1="383.80" x2="133.30" y2="383.80" stroke="#2a2a2a" stroke-width="0.8" />
<line x1="152.10" y1="380.40" x2="152.10" y2="388.30" stroke="#2a2a2a" stroke-width="0.8" />
<line x1="150.50" y1="380.40" x2="153.70" y2="380.40" stroke="#2a2a2a" stroke-width="0.8" />
<line x1="150.50" y1="388.30" x2="153.70" y2="388.30" stroke="#2a2a2a" stroke-width="0.8" />
<path d="M90.90 359.95 L93.05 362.10 L90.90 364.25 L88.75 362.10 Z" fill="#111"/>
<path d="M101.10 363.15 L103.25 365.30 L101.10 367.45 L98.95 365.30 Z" fill="#111"/>
<path d="M111.30 365.85 L113.45 368.00 L111.30 370.15 L109.15 368.00 Z" fill="#111"/>
<path d="M121.50 373.65 L123.65 375.80 L121.50 377.95 L119.35 375.80 Z" fill="#111"/>
<path d="M131.70 374.85 L133.85 377.00 L131.70 379.15 L129.55 377.00 Z" fill="#111"/>
<path d="M152.10 382.55 L154.25 384.70 L152.10 386.85 L149.95 384.70 Z" fill="#111"/>
<rect x="89.40" y="360.60" width="3.00" height="3.00" fill="#808080" stroke="#1a1a1a" stroke-width="0.95"/>
<rect x="99.60" y="362.50" width="3.00" height="3.00" fill="#808080" stroke="#1a1a1a" stroke-width="0.95"/>
<rect x="109.80" y="365.70" width="3.00" height="3.00" fill="#808080" stroke="#1a1a1a" stroke-width="0.95"/>
<rect x="120.00" y="370.10" width="3.00" height="3.00" fill="#808080" stroke="#1a1a1a" stroke-width="0.95"/>
<rect x="130.20" y="374.30" width="3.00" height="3.00" fill="#808080" stroke="#1a1a1a" stroke-width="0.95"/>
<rect x="150.60" y="373.80" width="3.00" height="3.00" fill="#808080" stroke="#1a1a1a" stroke-width="0.95"/>
<line x1="211.40" y1="362.20" x2="211.40" y2="397.80" stroke="#606060" stroke-width="0.8" />
<line x1="211.40" y1="364.30" x2="296.40" y2="364.30" stroke="#606060" stroke-width="0.8" />
<text x="211.40" y="355.71" font-size="5.9" text-anchor="middle" fill="#1a1a1a" >0</text>
<line x1="253.90" y1="364.30" x2="253.90" y2="365.90" stroke="#606060" stroke-width="0.7" />
<text x="253.90" y="355.71" font-size="5.9" text-anchor="middle" fill="#1a1a1a" >20</text>
<line x1="296.40" y1="364.30" x2="296.40" y2="365.90" stroke="#606060" stroke-width="0.7" />
<text x="296.40" y="355.71" font-size="5.9" text-anchor="middle" fill="#1a1a1a" >40</text>
<line x1="209.80" y1="362.20" x2="211.40" y2="362.20" stroke="#606060" stroke-width="0.7" />
<text x="205.60" y="364.31" font-size="5.9" text-anchor="end" fill="#1a1a1a" >0.5</text>
<line x1="209.80" y1="380.20" x2="211.40" y2="380.20" stroke="#606060" stroke-width="0.7" />
<text x="205.60" y="382.31" font-size="5.9" text-anchor="end" fill="#1a1a1a" >-4.5</text>
<line x1="209.80" y1="397.30" x2="211.40" y2="397.30" stroke="#606060" stroke-width="0.7" />
<text x="205.60" y="399.41" font-size="5.9" text-anchor="end" fill="#1a1a1a" >-9.5</text>
<text x="245.20" y="347.70" font-size="9.5" text-anchor="middle" fill="#1a1a1a" font-weight="bold" stroke="#1a1a1a" stroke-width="0.22" font-style="italic" textLength="26.90" lengthAdjust="spacingAndGlyphs" >GAL10</text>
<text x="194.70" y="389.44" font-size="7.1" text-anchor="middle" fill="#1a1a1a" font-weight="bold" stroke="#1a1a1a" stroke-width="0.22" textLength="43.20" lengthAdjust="spacingAndGlyphs" transform="rotate(-90 194.70 386.90)" >mRNA amount</text>
<text x="254.40" y="406.79" font-size="7.8" text-anchor="middle" fill="#1a1a1a" font-weight="bold" stroke="#1a1a1a" stroke-width="0.22" textLength="30.80" lengthAdjust="spacingAndGlyphs" >Time (min)</text>
<line x1="211.40" y1="364.30" x2="275.21" y2="386.60" stroke="#1a1a1a" stroke-width="1.1" />
<line x1="211.40" y1="364.30" x2="275.21" y2="378.70" stroke="#666" stroke-width="0.9" />
<line x1="222.03" y1="367.00" x2="222.03" y2="373.50" stroke="#2a2a2a" stroke-width="0.8" />
<line x1="220.44" y1="367.00" x2="223.63" y2="367.00" stroke="#2a2a2a" stroke-width="0.8" />
<line x1="220.44" y1="373.50" x2="223.63" y2="373.50" stroke="#2a2a2a" stroke-width="0.8" />
<line x1="232.67" y1="366.80" x2="232.67" y2="373.00" stroke="#2a2a2a" stroke-width="0.8" />
<line x1="231.07" y1="366.80" x2="234.27" y2="366.80" stroke="#2a2a2a" stroke-width="0.8" />
<line x1="231.07" y1="373.00" x2="234.27" y2="373.00" stroke="#2a2a2a" stroke-width="0.8" />
<line x1="275.21" y1="371.20" x2="275.21" y2="380.10" stroke="#2a2a2a" stroke-width="0.8" />
<line x1="273.61" y1="371.20" x2="276.81" y2="371.20" stroke="#2a2a2a" stroke-width="0.8" />
<line x1="273.61" y1="380.10" x2="276.81" y2="380.10" stroke="#2a2a2a" stroke-width="0.8" />
<path d="M211.40 362.15 L213.55 364.30 L211.40 366.45 L209.25 364.30 Z" fill="#111"/>
<path d="M222.03 369.25 L224.19 371.40 L222.03 373.55 L219.88 371.40 Z" fill="#111"/>
<path d="M232.67 369.15 L234.82 371.30 L232.67 373.45 L230.52 371.30 Z" fill="#111"/>
<path d="M243.31 378.75 L245.46 380.90 L243.31 383.05 L241.16 380.90 Z" fill="#111"/>
<path d="M275.21 383.55 L277.36 385.70 L275.21 387.85 L273.06 385.70 Z" fill="#111"/>
<rect x="209.90" y="362.80" width="3.00" height="3.00" fill="#808080" stroke="#1a1a1a" stroke-width="0.95"/>
<rect x="220.53" y="367.50" width="3.00" height="3.00" fill="#808080" stroke="#1a1a1a" stroke-width="0.95"/>
<rect x="231.17" y="368.40" width="3.00" height="3.00" fill="#808080" stroke="#1a1a1a" stroke-width="0.95"/>
<rect x="241.81" y="374.30" width="3.00" height="3.00" fill="#808080" stroke="#1a1a1a" stroke-width="0.95"/>
<rect x="273.71" y="374.30" width="3.00" height="3.00" fill="#808080" stroke="#1a1a1a" stroke-width="0.95"/>
<rect x="303.5" y="392.0" width="26.80" height="17.10" fill="#fff" stroke="#555" stroke-width="0.8"/>
<path d="M307.00 393.70 L308.70 395.40 L307.00 397.10 L305.30 395.40 Z" fill="#111"/>
<rect x="305.80" y="404.00" width="2.4" height="2.4" fill="#aaa" stroke="#444" stroke-width="0.7"/>
<text x="311.00" y="397.65" font-size="6.0" text-anchor="start" fill="#1a1a1a" font-weight="bold" stroke="#1a1a1a" stroke-width="0.05" font-style="italic" textLength="8.80" lengthAdjust="spacingAndGlyphs" >WT</text>
<text x="311.00" y="407.45" font-size="6.0" text-anchor="start" fill="#1a1a1a" font-weight="bold" stroke="#1a1a1a" stroke-width="0.05" font-style="italic" textLength="14.30" lengthAdjust="spacingAndGlyphs" >rtr1Δ</text>
<line x1="174.40" y1="440.00" x2="174.40" y2="545.20" stroke="#555" stroke-width="0.9" />
<line x1="174.40" y1="454.50" x2="281.00" y2="454.50" stroke="#555" stroke-width="0.9" />
<line x1="90.70" y1="467.40" x2="281.00" y2="467.40" stroke="#555" stroke-width="0.9" />
<text x="180.00" y="449.91" font-size="8.4" text-anchor="start" fill="#1a1a1a" font-weight="bold" stroke="#1a1a1a" stroke-width="0.22" textLength="94.90" lengthAdjust="spacingAndGlyphs" >Relative mRNA half-life</text>
<text x="195.40" y="463.36" font-size="8.0" text-anchor="middle" fill="#1a1a1a" font-weight="bold" stroke="#1a1a1a" stroke-width="0.22" font-style="italic" textLength="11.60" lengthAdjust="spacingAndGlyphs" >WT</text>
<text x="248.50" y="463.36" font-size="8.0" text-anchor="middle" fill="#1a1a1a" font-weight="bold" stroke="#1a1a1a" stroke-width="0.22" font-style="italic" textLength="17.20" lengthAdjust="spacingAndGlyphs" >rtr1Δ</text>
<text x="132.30" y="477.49" font-size="7.8" text-anchor="middle" fill="#1a1a1a" font-weight="bold" stroke="#1a1a1a" stroke-width="0.22" textLength="46.90" lengthAdjust="spacingAndGlyphs" >Global mRNA</text>
<text x="195.80" y="477.64" font-size="8.2" text-anchor="middle" fill="#1a1a1a" stroke="#1a1a1a" stroke-width="0.18">1</text>
<text x="248.60" y="477.64" font-size="8.2" text-anchor="middle" fill="#1a1a1a" textLength="13.80" lengthAdjust="spacingAndGlyphs" stroke="#1a1a1a" stroke-width="0.18">1.91</text>
<text x="132.30" y="490.19" font-size="7.8" text-anchor="middle" fill="#1a1a1a" font-weight="bold" stroke="#1a1a1a" stroke-width="0.22" font-style="italic" textLength="17.50" lengthAdjust="spacingAndGlyphs" >ACT1</text>
<text x="195.80" y="490.34" font-size="8.2" text-anchor="middle" fill="#1a1a1a" stroke="#1a1a1a" stroke-width="0.18">1</text>
<text x="248.60" y="490.34" font-size="8.2" text-anchor="middle" fill="#1a1a1a" textLength="13.80" lengthAdjust="spacingAndGlyphs" stroke="#1a1a1a" stroke-width="0.18">1.47</text>
<text x="132.30" y="502.99" font-size="7.8" text-anchor="middle" fill="#1a1a1a" font-weight="bold" stroke="#1a1a1a" stroke-width="0.22" font-style="italic" textLength="18.50" lengthAdjust="spacingAndGlyphs" >HHT1</text>
<text x="195.80" y="503.14" font-size="8.2" text-anchor="middle" fill="#1a1a1a" stroke="#1a1a1a" stroke-width="0.18">1</text>
<text x="248.60" y="503.14" font-size="8.2" text-anchor="middle" fill="#1a1a1a" textLength="13.80" lengthAdjust="spacingAndGlyphs" stroke="#1a1a1a" stroke-width="0.18">1.57</text>
<text x="132.30" y="515.99" font-size="7.8" text-anchor="middle" fill="#1a1a1a" font-weight="bold" stroke="#1a1a1a" stroke-width="0.22" font-style="italic" textLength="20.50" lengthAdjust="spacingAndGlyphs" >PMA1</text>
<text x="195.80" y="516.14" font-size="8.2" text-anchor="middle" fill="#1a1a1a" stroke="#1a1a1a" stroke-width="0.18">1</text>
<text x="248.60" y="516.14" font-size="8.2" text-anchor="middle" fill="#1a1a1a" textLength="13.80" lengthAdjust="spacingAndGlyphs" stroke="#1a1a1a" stroke-width="0.18">1.58</text>
<text x="132.30" y="528.79" font-size="7.8" text-anchor="middle" fill="#1a1a1a" font-weight="bold" stroke="#1a1a1a" stroke-width="0.22" font-style="italic" textLength="18.00" lengthAdjust="spacingAndGlyphs" >GAL1</text>
<text x="195.80" y="528.94" font-size="8.2" text-anchor="middle" fill="#1a1a1a" stroke="#1a1a1a" stroke-width="0.18">1</text>
<text x="248.60" y="528.94" font-size="8.2" text-anchor="middle" fill="#1a1a1a" textLength="13.80" lengthAdjust="spacingAndGlyphs" stroke="#1a1a1a" stroke-width="0.18">1.51</text>
<text x="132.30" y="541.59" font-size="7.8" text-anchor="middle" fill="#1a1a1a" font-weight="bold" stroke="#1a1a1a" stroke-width="0.22" font-style="italic" textLength="22.50" lengthAdjust="spacingAndGlyphs" >GAL10</text>
<text x="195.80" y="541.74" font-size="8.2" text-anchor="middle" fill="#1a1a1a" stroke="#1a1a1a" stroke-width="0.18">1</text>
<text x="248.60" y="541.74" font-size="8.2" text-anchor="middle" fill="#1a1a1a" textLength="13.80" lengthAdjust="spacingAndGlyphs" stroke="#1a1a1a" stroke-width="0.18">1.45</text>
</svg>
</body></html>
